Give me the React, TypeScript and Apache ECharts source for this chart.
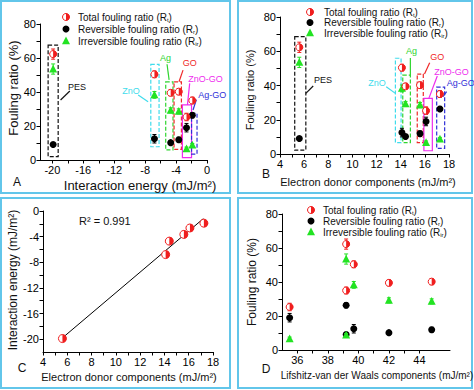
import React, { useEffect, useRef } from 'react';
import * as echarts from 'echarts';

const FONT = '"Liberation Sans", Arial, Helvetica, sans-serif';

// ---------------- data ----------------
const groups = ['PES', 'ZnO', 'Ag', 'GO', 'ZnO-GO', 'Ag-GO'];
const interactionEnergy = [-19.9, -6.8, -4.7, -3.65, -2.65, -1.9];
const electronDonor = [5.6, 14.1, 14.4, 15.6, 16.1, 17.25];
const lifshitzVdW = [39.2, 39.7, 42.0, 44.8, 35.5, 39.2];
const totalFouling = [62.3, 50.4, 39.5, 40.2, 25.3, 35.0];
const totalErr = [3.0, 2.0, 1.8, 1.8, 2.2, 2.0];
const reversibleFouling = [9.1, 12.5, 10.2, 11.9, 19.0, 26.3];
const reversibleErr = [1.0, 2.5, 1.2, 1.5, 2.5, 1.5];
const irreversibleFouling = [53.5, 38.3, 29.2, 28.6, 6.6, 8.7];
const irreversibleErr = [3.0, 2.0, 1.5, 1.5, 1.0, 1.0];
const fitLineX = [5.6, 17.2];
const fitLineY = [-19.8, -1.2];
const r2Text = 'R\u00b2 = 0.991';

// tick labels
const foulingTicks = [0, 20, 40, 60, 80];
const energyTicks = [-20, -16, -12, -8, -4, 0];
const donorTicks = [4, 6, 8, 10, 12, 14, 16, 18];
const lwTicks = [36, 38, 40, 42, 44];

// group annotations (data coordinates) — panel A
const boxesA = [
  [-20.55, -19.25, 2, 67.6],
  [-7.27, -6.2, 7.8, 56.3],
  [-5.34, -4.4, 5.9, 46],
  [-4.26, -3.31, 6.3, 46],
  [-3.18, -2.0, 1.4, 32.4],
  [-2.0, -1.29, 3.5, 27.5],
];
const labelsA = [[-16.8, 43], [-9.83, 40.6], [-5.36, 59.8], [-2.24, 56.9], [-0.19, 47.5], [0.67, 38]];
const leadersA = [
  [-18.94, 35.3, -17.74, 40.6],
  [-8.9, 38.2, -7.62, 34.3],
  [-5.17, 56.3, -4.9, 47.1],
  [-3.1, 52.9, -3.62, 46],
  [-2.24, 45.1, -2.53, 32.4],
  [-1.37, 35.5, -1.81, 29.4],
];
// panel B
const boxesB = [
  [5.22, 6.14, 2.3, 68.5],
  [13.56, 14.03, 6.6, 55.9],
  [14.17, 14.8, 6.6, 46.1],
  [15.37, 15.87, 6.6, 46.7],
  [15.92, 16.62, 1.9, 32.5],
  [16.98, 17.64, 3.3, 39],
];
const labelsB = [[7.56, 43.2], [12.03, 41.6], [14.9, 60.3], [17.03, 56.5], [18.2, 48], [18.98, 41.3]];
const leadersB = [
  [6.14, 35.4, 6.75, 39.7],
  [12.8, 39.3, 13.56, 35.4],
  [14.8, 56, 14.8, 46],
  [16.4, 53.3, 15.97, 46.7],
  [17.03, 45.5, 16.33, 32.5],
  [17.8, 36.4, 17.5, 33.5],
];

const groupColors = ['#111111', '#3fdcec', '#2fd52f', '#f02828', '#ee2cee', '#3030d8'];
const groupDashed = [true, true, true, true, false, true];

const RED = '#f01e1e';
const GREEN = '#22e322';
const BLACK = '#000000';
const BORDER = '#62c6ea';

const legendTexts = [
  'Total fouling ratio (R{s|t})',
  'Reversible fouling ratio (R{s|r})',
  'Irreversible fouling ratio (R{s|ir})',
];

function withMinor(majors: number[]) {
  const out: number[] = [...majors];
  for (let i = 0; i < majors.length - 1; i++) out.push((majors[i] + majors[i + 1]) / 2);
  return out.sort((a, b) => a - b);
}

function makeAxis(gridIndex: number, min: number, max: number, labels: number[]) {
  return {
    type: 'value',
    gridIndex,
    min,
    max,
    axisLine: { show: true, onZero: false, lineStyle: { color: '#000', width: 1 } },
    axisTick: {
      show: true,
      inside: false,
      length: 3.5,
      customValues: withMinor(labels),
      lineStyle: { color: '#000', width: 1 },
    },
    axisLabel: {
      show: true,
      customValues: labels,
      color: '#000',
      fontSize: 11,
      fontFamily: FONT,
      margin: 4,
    },
    splitLine: { show: false },
  };
}

function halfCircle(cx: number, cy: number, r: number) {
  return [
    { type: 'circle', shape: { cx, cy, r }, style: { fill: '#fff', stroke: RED, lineWidth: 1 } },
    {
      type: 'sector',
      shape: { cx, cy, r0: 0, r, startAngle: -Math.PI / 2, endAngle: Math.PI / 2, clockwise: true },
      style: { fill: RED },
    },
  ];
}

function triangle(cx: number, cy: number, s: number) {
  return {
    type: 'polygon',
    shape: { points: [[cx, cy - s * 0.55], [cx + s * 0.5, cy + s * 0.42], [cx - s * 0.5, cy + s * 0.42]] },
    style: { fill: GREEN },
  };
}

function markerSeries(kind: string, gi: number, xs: number[], ys: number[], es: number[] | null, r = 3.5) {
  const color = kind === 'total' ? RED : kind === 'rev' ? BLACK : GREEN;
  return {
    type: 'custom',
    xAxisIndex: gi,
    yAxisIndex: gi,
    clip: false,
    silent: true,
    z: kind === 'total' ? 5 : 4,
    data: xs.map((x, i) => [x, ys[i], es ? es[i] : 0]),
    encode: { x: 0, y: 1 },
    renderItem: (params: any, api: any) => {
      const x = api.value(0);
      const y = api.value(1);
      const e = api.value(2);
      const p = api.coord([x, y]);
      const children: any[] = [];
      if (e > 0) {
        const pt = api.coord([x, y + e]);
        const pb = api.coord([x, y - e]);
        const st = { stroke: color, lineWidth: 1 };
        children.push({ type: 'line', shape: { x1: p[0], y1: pt[1], x2: p[0], y2: pb[1] }, style: st });
        children.push({ type: 'line', shape: { x1: p[0] - 2, y1: pt[1], x2: p[0] + 2, y2: pt[1] }, style: st });
        children.push({ type: 'line', shape: { x1: p[0] - 2, y1: pb[1], x2: p[0] + 2, y2: pb[1] }, style: st });
      }
      if (kind === 'total') children.push(...halfCircle(p[0], p[1], r));
      else if (kind === 'rev') children.push({ type: 'circle', shape: { cx: p[0], cy: p[1], r }, style: { fill: BLACK } });
      else children.push(triangle(p[0], p[1], 8));
      return { type: 'group', children };
    },
  };
}

function annotationSeries(gi: number, boxes: number[][], labels: number[][], leaders: number[][]) {
  return {
    type: 'custom',
    xAxisIndex: gi,
    yAxisIndex: gi,
    clip: false,
    silent: true,
    z: 2,
    data: boxes.map((b, i) => [b[0], b[1], b[2], b[3], i]),
    encode: { x: [0, 1], y: [2, 3] },
    renderItem: (params: any, api: any) => {
      const i = api.value(4);
      const b = boxes[i];
      const p0 = api.coord([b[0], b[3]]);
      const p1 = api.coord([b[1], b[2]]);
      const color = groupColors[i];
      const l = leaders[i];
      const a = api.coord([l[0], l[1]]);
      const c = api.coord([l[2], l[3]]);
      const t = api.coord(labels[i]);
      return {
        type: 'group',
        children: [
          {
            type: 'rect',
            shape: { x: p0[0], y: p0[1], width: p1[0] - p0[0], height: p1[1] - p0[1] },
            style: { fill: 'transparent', stroke: color, lineWidth: 1.2, lineDash: groupDashed[i] ? [4, 2] : null },
          },
          { type: 'line', shape: { x1: a[0], y1: a[1], x2: c[0], y2: c[1] }, style: { stroke: color, lineWidth: 1.2 } },
          {
            type: 'text',
            x: t[0],
            y: t[1],
            style: { text: groups[i], fill: color, font: `9px ${FONT}`, align: 'center', verticalAlign: 'middle' },
          },
        ],
      };
    },
  };
}

function legendGraphic(mx: number, y0: number, dy: number, tx: number) {
  const items: any[] = [];
  items.push(...halfCircle(mx, y0, 3.5));
  items.push({ type: 'circle', shape: { cx: mx, cy: y0 + dy, r: 3.5 }, style: { fill: BLACK } });
  items.push(triangle(mx, y0 + 2 * dy, 8));
  legendTexts.forEach((t, i) => {
    items.push({
      type: 'text',
      x: tx,
      y: y0 + i * dy,
      style: {
        text: t,
        fill: '#111',
        font: `10px ${FONT}`,
        verticalAlign: 'middle',
        align: 'left',
        rich: { s: { fontSize: 6, fontFamily: FONT, fill: '#111', padding: [5, 0, 0, 0] } },
      },
    });
  });
  return items;
}

function textG(x: number, y: number, text: string, size: number, rotate = false) {
  return {
    type: 'text',
    x,
    y,
    rotation: rotate ? Math.PI / 2 : 0,
    style: { text, fill: '#111', font: `${size}px ${FONT}`, align: 'center', verticalAlign: 'middle' },
  };
}

function borderRect(x: number, y: number, w: number, h: number) {
  return { type: 'rect', shape: { x, y, width: w, height: h }, style: { fill: 'transparent', stroke: BORDER, lineWidth: 2 } };
}

export default function App() {
  const ref = useRef<HTMLDivElement>(null);
  useEffect(() => {
    if (!ref.current) return;
    const chart = echarts.init(ref.current, null, { renderer: 'svg' });
    const option: any = {
      animation: false,
      backgroundColor: '#fff',
      grid: [
        { left: 40, top: 24, width: 167, height: 136 },
        { left: 280, top: 17, width: 169, height: 137 },
        { left: 43, top: 211, width: 170, height: 141 },
        { left: 282, top: 214, width: 168, height: 136 },
      ],
      xAxis: [
        makeAxis(0, -21.6, 0, energyTicks),
        makeAxis(1, 4, 18, donorTicks),
        makeAxis(2, 4, 18, donorTicks),
        makeAxis(3, 35, 46, lwTicks),
      ],
      yAxis: [
        makeAxis(0, 0, 80, foulingTicks),
        makeAxis(1, 0, 80, foulingTicks),
        makeAxis(2, -22, 0, energyTicks),
        makeAxis(3, 0, 80, foulingTicks),
      ],
      series: [
        annotationSeries(0, boxesA, labelsA, leadersA),
        markerSeries('rev', 0, interactionEnergy, reversibleFouling, reversibleErr),
        markerSeries('irr', 0, interactionEnergy, irreversibleFouling, irreversibleErr),
        markerSeries('total', 0, interactionEnergy, totalFouling, totalErr),

        annotationSeries(1, boxesB, labelsB, leadersB),
        markerSeries('rev', 1, electronDonor, reversibleFouling, reversibleErr),
        markerSeries('irr', 1, electronDonor, irreversibleFouling, irreversibleErr),
        markerSeries('total', 1, electronDonor, totalFouling, totalErr),

        {
          type: 'line',
          xAxisIndex: 2,
          yAxisIndex: 2,
          data: fitLineX.map((x, i) => [x, fitLineY[i]]),
          showSymbol: false,
          symbol: 'none',
          silent: true,
          lineStyle: { color: '#000', width: 1 },
          z: 3,
        },
        markerSeries('total', 2, electronDonor, interactionEnergy, null, 4),

        markerSeries('rev', 3, lifshitzVdW, reversibleFouling, reversibleErr),
        markerSeries('irr', 3, lifshitzVdW, irreversibleFouling, irreversibleErr),
        markerSeries('total', 3, lifshitzVdW, totalFouling, totalErr),
      ],
      graphic: [
        borderRect(1, 1, 229, 192),
        borderRect(238, 1, 234, 192),
        borderRect(1, 198, 229, 190),
        borderRect(238, 198, 234, 190),
        ...legendGraphic(66, 17, 12, 78),
        ...legendGraphic(310, 12, 10.5, 324),
        ...legendGraphic(311, 210, 11, 323),
        textG(140, 185, 'Interaction energy (mJ/m\u00b2)', 13),
        textG(13, 88, 'Fouling ratio (%)', 13, true),
        textG(17, 182, 'A', 12),
        textG(368, 182, 'Electron donor components (mJ/m\u00b2)', 11),
        textG(250, 90, 'Fouling ratio (%)', 11, true),
        textG(266, 174, 'B', 12),
        textG(129, 377, 'Electron donor components (mJ/m\u00b2)', 11),
        textG(13, 280, 'Interaction energy (mJ/m\u00b2)', 12, true),
        textG(22, 368, 'C', 12),
        { type: 'text', x: 79, y: 221, style: { text: r2Text, fill: '#111', font: `11px ${FONT}`, align: 'left', verticalAlign: 'middle' } },
        textG(377, 375, 'Lifshitz-van der Waals components (mJ/m\u00b2)', 10),
        textG(252, 282, 'Fouling ratio (%)', 12, true),
        textG(266, 369, 'D', 12),
      ],
    };
    chart.setOption(option);
    return () => chart.dispose();
  }, []);
  return (
    <div
      ref={ref}
      style={{ position: 'absolute', left: 0, top: 0, width: 474, height: 390, background: '#fff' }}
    />
  );
}
